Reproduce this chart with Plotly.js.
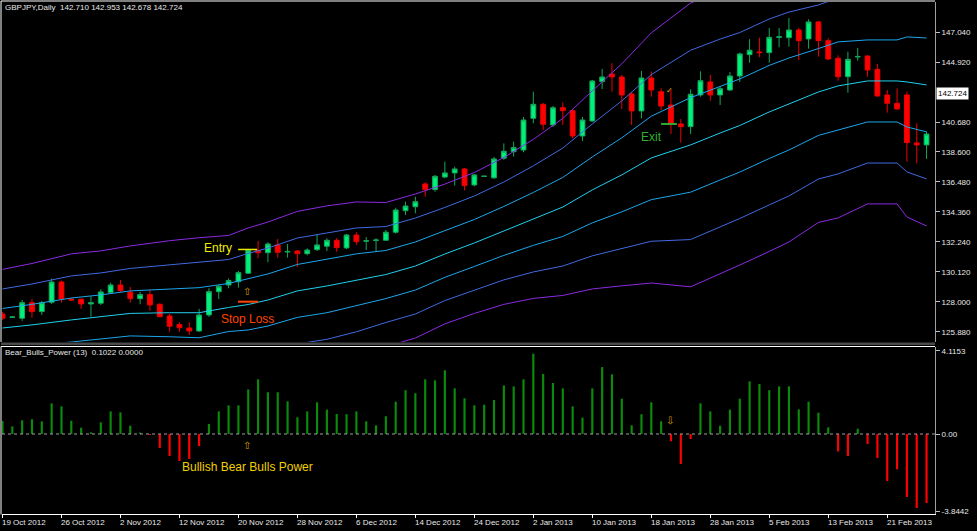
<!DOCTYPE html>
<html>
<head>
<meta charset="utf-8">
<script src="https://cdn.plot.ly/plotly-3.0.1.min.js"></script>
<style>
html,body{margin:0;padding:0;background:#000;}
#chart{width:977px;height:531px;}
</style>
</head>
<body>
<div id="chart"></div>
<script>
// ---------- data ----------
const tickIdx  = [0,6,12,18,24,30,36,42,48,54,60,66,72,78,84,90];
const tickText = ['19 Oct 2012','26 Oct 2012','2 Nov 2012','12 Nov 2012','20 Nov 2012','28 Nov 2012',
  '6 Dec 2012','14 Dec 2012','24 Dec 2012','2 Jan 2013','10 Jan 2013','18 Jan 2013','28 Jan 2013',
  '5 Feb 2013','13 Feb 2013','21 Feb 2013'];

const openP = [127.15,126.91,126.85,127.95,127.32,127.98,129.41,128.21,128.19,127.86,
  127.91,128.66,129.20,128.69,128.23,128.52,127.84,127.01,126.40,126.16,
  125.95,127.08,128.73,129.20,129.43,130.03,131.65,131.48,132.03,131.53,
  131.60,131.41,131.70,131.94,132.36,131.82,132.73,132.29,132.34,132.36,
  132.93,134.45,134.73,136.34,135.94,136.83,137.12,137.40,136.27,136.87,
  136.77,138.16,138.62,138.74,140.98,141.97,140.51,141.73,141.52,139.73,
  140.79,143.57,144.11,143.90,142.70,141.50,143.83,142.86,141.92,140.58,
  140.39,142.63,143.55,142.63,142.98,143.97,145.48,145.67,145.62,146.70,
  146.68,147.22,146.59,147.79,146.47,145.22,143.92,145.31,145.38,144.44,
  142.63,142.04,142.63,139.24,139.10];
const highP = [127.29,127.01,128.14,128.21,128.07,129.65,129.51,128.28,128.25,128.42,
  128.90,129.36,129.55,129.06,128.71,128.85,127.89,127.17,126.57,126.57,
  127.51,128.97,129.20,129.67,130.19,131.75,132.31,132.22,132.45,132.10,
  131.67,131.79,132.79,132.50,132.52,132.80,132.93,132.59,132.50,133.09,
  134.66,135.09,135.44,136.46,136.98,137.92,137.56,137.47,137.05,136.91,
  138.25,139.21,139.33,141.07,142.86,142.06,141.85,142.11,141.64,141.07,
  143.69,144.47,144.87,144.04,142.84,144.33,144.28,143.10,143.05,140.93,
  143.03,144.30,144.04,143.21,144.25,145.62,146.57,146.68,147.36,147.36,
  148.07,147.36,147.98,147.86,146.64,145.43,145.69,145.95,145.45,144.82,
  142.98,143.10,142.86,140.63,140.04];
const lowP = [126.73,126.87,126.66,126.89,127.08,127.86,127.95,128.07,127.51,126.96,
  127.79,128.59,128.69,127.95,127.84,127.39,126.94,125.90,125.90,125.67,
  125.88,126.94,128.21,128.97,129.01,129.98,131.09,130.81,131.13,131.13,
  130.47,131.30,131.60,131.60,131.55,131.73,132.03,131.67,131.60,132.31,
  132.83,134.15,134.27,135.44,135.80,136.74,136.22,135.89,136.18,136.85,
  136.69,138.04,138.27,138.58,140.63,140.16,140.37,140.51,139.57,139.38,
  140.72,143.05,142.86,141.64,140.51,140.98,142.51,141.57,139.87,139.26,
  139.87,142.51,142.22,141.92,142.91,143.55,144.91,145.29,144.91,146.00,
  146.04,145.10,145.90,145.34,145.10,143.64,142.79,145.05,143.92,142.52,
  141.38,141.57,137.92,137.80,138.11];
const closeP = [126.85,126.94,127.95,127.32,127.95,129.41,128.21,128.14,127.86,127.95,
  128.71,129.20,128.80,128.23,128.52,127.79,126.96,126.28,126.18,125.95,
  127.08,128.73,129.11,129.51,130.07,131.67,131.48,132.10,131.51,131.57,
  131.41,131.67,132.03,132.36,131.84,132.73,132.26,132.33,132.38,132.93,
  134.50,134.78,135.09,135.94,136.88,137.12,137.40,136.22,136.98,136.89,
  138.11,138.65,138.91,140.86,141.97,140.56,141.73,141.52,139.73,140.86,
  143.62,143.90,143.90,142.63,141.50,143.83,142.98,141.85,140.58,140.39,
  142.68,143.64,142.63,143.07,143.97,145.53,145.79,145.62,146.70,146.74,
  147.22,146.47,147.79,146.47,145.17,143.92,145.15,145.35,144.39,142.56,
  142.04,141.64,139.26,139.10,139.87];

const bbp = [0.65,0.38,0.68,0.73,0.63,1.52,1.37,0.66,0.31,0.08,
  0.58,1.12,1.07,0.41,0.07,-0.05,-0.69,-1.09,-1.34,-1.24,
  -0.60,0.50,1.12,1.42,1.42,2.21,2.71,2.07,2.07,1.62,
  0.83,1.12,1.57,1.21,0.99,0.98,1.12,0.63,0.43,0.88,
  1.60,2.17,2.02,2.71,2.66,3.16,2.26,1.77,1.42,1.45,
  1.69,2.41,2.36,2.71,3.98,2.98,2.53,2.26,1.37,0.81,
  2.26,3.32,2.96,1.75,0.43,0.98,1.57,0.63,-0.36,-1.49,
  -0.25,1.52,1.12,0.41,1.21,1.75,2.61,2.48,2.17,2.36,
  2.36,1.22,1.60,1.06,0.33,-0.86,-1.09,0.26,-0.50,-1.19,
  -2.33,-1.75,-3.12,-3.67,-3.42];

const bandIdx = [0,3,7,10,13,17,20,23,25,27,30,33,36,39,42,45,48,51,54,57,60,63,66,70,73,75,78,80,83,85,88,91,92,94];
const up3 = [130.30,130.72,131.40,131.61,131.96,132.33,132.54,132.70,133.23,133.65,134.40,134.79,135.07,135.03,135.63,136.33,137.15,138.21,139.49,140.97,142.92,144.83,147.02,149.13,149.91,150.33,151.29,151.74,152.06,152.60,152.31,152.31,153.09,153.31];
const up2 = [128.92,129.27,129.84,130.05,130.37,130.63,130.78,131.00,131.43,131.81,132.52,132.90,133.23,133.33,133.93,134.68,135.49,136.48,137.62,138.88,140.58,142.21,144.07,145.79,146.58,147.04,148.00,148.49,148.99,149.49,149.42,149.42,149.91,149.98];
const up1 = [127.54,127.83,128.28,128.50,128.78,128.94,129.01,129.31,129.62,129.98,130.65,131.02,131.40,131.64,132.24,133.04,133.83,134.75,135.74,136.80,138.25,139.60,141.13,142.44,143.26,143.76,144.72,145.24,145.91,146.38,146.52,146.52,146.73,146.66];
const mid = [126.16,126.38,126.73,126.94,127.19,127.24,127.24,127.61,127.82,128.14,128.78,129.13,129.56,129.94,130.54,131.39,132.17,133.02,133.87,134.71,135.92,136.98,138.18,139.10,139.94,140.47,141.43,141.99,142.84,143.27,143.62,143.62,143.55,143.34];
const lo1 = [124.79,124.93,125.17,125.39,125.60,125.54,125.47,125.91,126.02,126.30,126.91,127.24,127.72,128.24,128.84,129.74,130.51,131.29,132.00,132.63,133.59,134.37,135.23,135.76,136.62,137.18,138.14,138.74,139.77,140.16,140.72,140.72,140.37,140.02];
const lo2 = [123.41,123.48,123.62,123.83,124.01,123.85,123.71,124.22,124.22,124.47,125.03,125.36,125.89,126.55,127.15,128.10,128.85,129.56,130.12,130.54,131.26,131.75,132.29,132.41,133.30,133.90,134.86,135.49,136.69,137.05,137.82,137.82,137.19,136.70];
const lo3 = [122.03,122.03,122.06,122.27,122.42,122.15,121.94,122.52,122.41,122.63,123.16,123.47,124.05,124.85,125.45,126.45,127.19,127.83,128.25,128.46,128.92,129.14,129.34,129.07,129.97,130.61,131.57,132.24,133.62,133.94,134.93,134.93,134.01,133.37];

const priceTicks = [147.04,144.92,140.68,138.60,136.48,134.36,132.24,130.12,128.00,125.88];
const priceTickText = ['147.040','144.920','140.680','138.600','136.480','134.360','132.240','130.120','128.000','125.880'];
const lastPrice = 142.724;
const bbpTicks = [4.1153, 0, -3.8442];
const bbpTickText = ['4.1153','0.00','-3.8442'];

// ---------- build ----------
const FONT = 'Liberation Sans, Arial, sans-serif';
const idx = openP.map((_, i) => i);
const W = 977, H = 531, ML = 2, MR = 42, MT = 2, MB = 17;
const px = X => (X - ML) / (W - ML - MR);
const py = Y => (H - MB - Y) / (H - MT - MB);

function bandLine(vals, color) {
  return {type:'scatter', mode:'lines', x: bandIdx, y: vals, xaxis:'x', yaxis:'y',
    line:{color:color, width:1}, hoverinfo:'skip'};
}

const traces = [
  bandLine(up3, '#8a2be2'), bandLine(up2, '#4169e1'), bandLine(up1, '#1ca6ec'),
  bandLine(mid, '#1fd0ee'),
  bandLine(lo1, '#1ca6ec'), bandLine(lo2, '#4169e1'), bandLine(lo3, '#8a2be2'),
  {type:'candlestick', x: idx, open: openP, high: highP, low: lowP, close: closeP,
   xaxis:'x', yaxis:'y', whiskerwidth:0, hoverinfo:'skip',
   increasing:{line:{color:'#12a85a', width:1}, fillcolor:'#00f07c'},
   decreasing:{line:{color:'#ee0000', width:1}, fillcolor:'#ff0000'}},
  {type:'bar', x: idx, y: bbp, xaxis:'x', yaxis:'y2', width:0.22, hoverinfo:'skip',
   marker:{color: bbp.map(v => v >= 0 ? '#0a8c0a' : '#ff0000'), line:{width:0}}}
];

const white = '#ffffff';
const shapes = [
  // frame top panel
  {type:'line', xref:'paper', yref:'paper', x0:px(1), x1:px(935), y0:py(1), y1:py(1), line:{color:white, width:1}},
  {type:'line', xref:'paper', yref:'paper', x0:px(1), x1:px(1), y0:py(1), y1:py(342), line:{color:white, width:1}},
  // separator band
  {type:'rect', xref:'paper', yref:'paper', x0:px(1), x1:px(935), y0:py(342.5), y1:py(345), fillcolor:'#4a4a4a', line:{width:0}},
  {type:'line', xref:'paper', yref:'paper', x0:px(1), x1:px(935), y0:py(346.5), y1:py(346.5), line:{color:white, width:1}},
  {type:'line', xref:'paper', yref:'paper', x0:px(1), x1:px(1), y0:py(346.5), y1:py(514.5), line:{color:white, width:1}},
  // zero line
  {type:'line', xref:'paper', yref:'y2', x0:0, x1:1, y0:0, y1:0, line:{color:'#a0a0a0', width:1, dash:'dot'}},
  // trade markers
  {type:'line', xref:'x', yref:'y', x0:23.96, x1:25.9, y0:131.71, y1:131.71, line:{color:'#e8e800', width:1.5}},
  {type:'line', xref:'x', yref:'y', x0:23.96, x1:26.0, y0:128.02, y1:128.02, line:{color:'#ff4500', width:2}},
  {type:'line', xref:'x', yref:'y', x0:67.0, x1:68.6, y0:140.58, y1:140.58, line:{color:'#33aa33', width:2}}
];

const annotations = [
  {xref:'paper', yref:'paper', x:px(3), y:py(7), xanchor:'left', yanchor:'middle', showarrow:false,
   text:'GBPJPY,Daily\u00a0 142.710 142.953 142.678 142.724', font:{family:FONT, size:8, color:'#e8e8e8'}},
  {xref:'paper', yref:'paper', x:px(3), y:py(352), xanchor:'left', yanchor:'middle', showarrow:false,
   text:'Bear_Bulls_Power (13)\u00a0 0.1022 0.0000', font:{family:FONT, size:8, color:'#e8e8e8'}},
  {xref:'paper', yref:'y', x:1, y:lastPrice, xanchor:'left', yanchor:'middle', xshift:1, showarrow:false,
   text:'142.724', bgcolor:'#ffffff', borderpad:1, font:{family:FONT, size:8, color:'#000000'}},
  {xref:'x', yref:'y', x:21.9, y:131.78, showarrow:false, text:'Entry', font:{family:FONT, size:12, color:'#f0f000'}},
  {xref:'x', yref:'y', x:24.87, y:128.74, showarrow:false, text:'\u21e7', font:{family:'DejaVu Sans', size:10, color:'#d0a000'}},
  {xref:'x', yref:'y', x:24.97, y:126.83, showarrow:false, text:'Stop Loss', font:{family:FONT, size:12, color:'#ff4500'}},
  {xref:'x', yref:'y', x:66.02, y:139.63, showarrow:false, text:'Exit', font:{family:FONT, size:12, color:'#30b030'}},
  {xref:'x', yref:'y', x:67.9, y:142.95, showarrow:false, text:'\u2713', font:{family:'DejaVu Sans', size:8, color:'#e0b000'}},
  {xref:'x', yref:'y2', x:24.87, y:-0.56, showarrow:false, text:'\u21e7', font:{family:'DejaVu Sans', size:10, color:'#d0a000'}},
  {xref:'x', yref:'y2', x:67.9, y:0.69, showarrow:false, text:'\u21e9', font:{family:'DejaVu Sans', size:10, color:'#d0a000'}},
  {xref:'x', yref:'y2', x:24.97, y:-1.66, showarrow:false, text:'Bullish Bear Bulls Power', font:{family:FONT, size:12, color:'#f0d000'}}
];
tickIdx.forEach((t, k) => {
  annotations.push({xref:'x', yref:'paper', x:t, y:py(522), xanchor:'left', yanchor:'middle', xshift:-2,
    showarrow:false, text:tickText[k], font:{family:FONT, size:8, color:'#e8e8e8'}});
});

const layout = {
  width: W, height: H,
  margin:{l:ML, r:MR, t:MT, b:MB, pad:0},
  paper_bgcolor:'#000000', plot_bgcolor:'#000000',
  showlegend:false, hovermode:false,
  xaxis:{domain:[0,1], range:[-0.05, 94.86], anchor:'y2', showgrid:false, zeroline:false,
    tickvals: tickIdx, ticktext: tickIdx.map(() => ''), ticks:'outside', ticklen:3, tickcolor:'#ffffff',
    showticklabels:false, showline:true, linecolor:'#ffffff', linewidth:1,
    rangeslider:{visible:false}, fixedrange:true},
  yaxis:{domain:[py(342), 1], range:[125.17, 149.20], anchor:'x', side:'right', showgrid:false, zeroline:false,
    tickvals: priceTicks, ticktext: priceTickText, ticks:'outside', ticklen:4, tickcolor:'#c0c0c0',
    tickfont:{family:FONT, size:8, color:'#e8e8e8'}, showline:true, linecolor:'#a0a0a0', linewidth:1, fixedrange:true},
  yaxis2:{domain:[0, py(347)], range:[-3.966, 4.313], anchor:'x', side:'right', showgrid:false, zeroline:false,
    tickvals: bbpTicks, ticktext: bbpTickText, ticks:'outside', ticklen:4, tickcolor:'#c0c0c0',
    tickfont:{family:FONT, size:8, color:'#e8e8e8'}, showline:true, linecolor:'#a0a0a0', linewidth:1, fixedrange:true},
  shapes: shapes,
  annotations: annotations
};

Plotly.newPlot('chart', traces, layout, {staticPlot:true, displayModeBar:false});
</script>
</body>
</html>
